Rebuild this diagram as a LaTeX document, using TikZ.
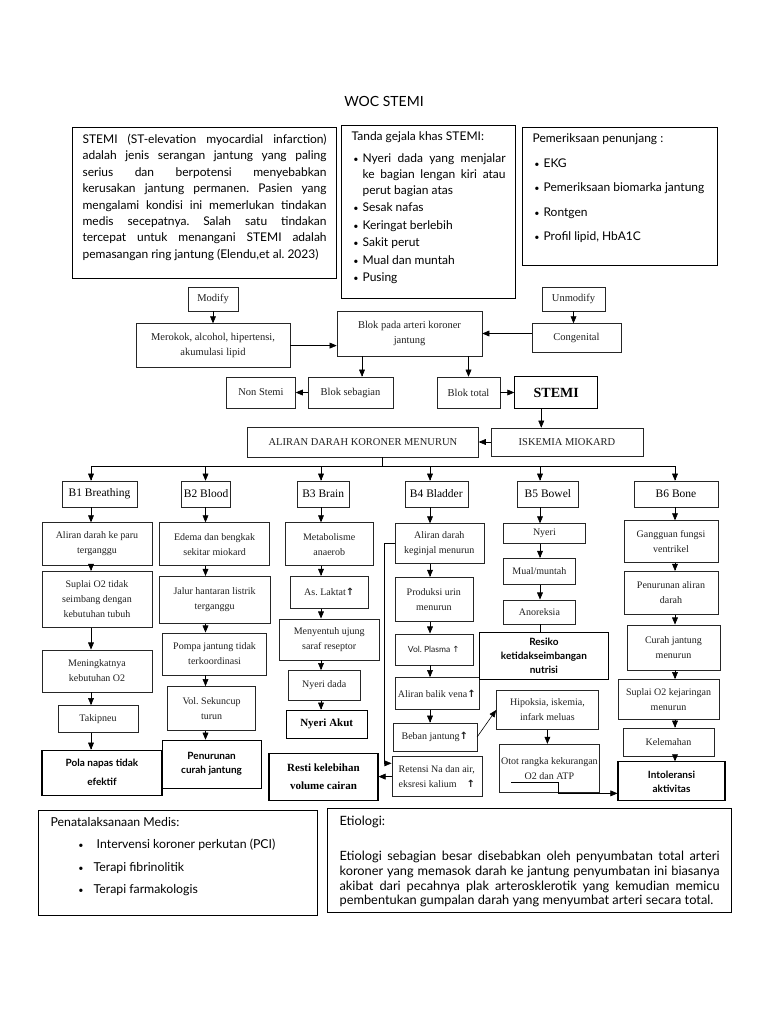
\documentclass[tikz,border=0pt]{standalone}
\usepackage{fontspec}
\setmainfont{Liberation Serif}
\setsansfont{Lato}
\newfontfamily\symfont{DejaVu Sans}
\usepackage{enumitem}
\usepackage{tikz}
\usetikzlibrary{arrows,positioning,calc}
\setlist[itemize]{label={\small\textbullet},parsep=0pt,partopsep=0pt}
\frenchspacing

\begin{document}
\begin{tikzpicture}[x=1pt,y=1pt,->,>=triangle 45,line width=.6pt,
	box size/.style 2 args={minimum width=#1,minimum height=#2},
	info box/.style={draw,line width=1.2pt,anchor=north west,inner xsep=10pt,inner ysep=6.5pt,
		font=\sffamily\fontsize{12}{16}\selectfont},
	flow box/.style={draw=black!85,line width=.6pt,align=center,inner sep=1pt,text=black!88,
		font=\rmfamily\fontsize{10}{15}\selectfont},
	top box/.style={flow box,font=\rmfamily\fontsize{10.5}{15}\selectfont},
	head box/.style={flow box,text=black,font=\rmfamily\fontsize{11.5}{14}\selectfont},
	result box/.style={draw,line width=1.1pt,align=center,inner sep=1pt,
		font=\sffamily\bfseries\fontsize{10}{14}\selectfont},
	result serif/.style={result box,font=\rmfamily\bfseries\fontsize{11}{18}\selectfont}]

    \useasboundingbox (0,0) rectangle (768,-1024);

    % judul
    \node[font=\sffamily\fontsize{14}{16}\selectfont] (judul) at (384,-101) {WOC STEMI};

    % kotak keterangan atas
    \node[info box,font=\sffamily\fontsize{12}{16.4}\selectfont] (definisi) at (72,-127) {\parbox[t][138pt][t]{244pt}{STEMI (ST-elevation myocardial infarction)\linebreak
    adalah jenis serangan jantung yang paling\linebreak
    serius dan berpotensi menyebabkan\linebreak
    kerusakan jantung permanen. Pasien yang\linebreak
    mengalami kondisi ini memerlukan tindakan\linebreak
    medis secepatnya. Salah satu tindakan\linebreak
    tercepat untuk menangani STEMI adalah\linebreak
    pemasangan ring jantung (Elendu,et al. 2023)}};
    \node[info box,inner ysep=6pt] (gejala) at (341,-125) {\parbox[t][161pt][t]{154pt}{Tanda gejala khas STEMI:
    \begin{itemize}[leftmargin=11pt,labelsep=4pt,topsep=6pt,itemsep=1.5pt]
    \item Nyeri dada yang menjalar\linebreak ke bagian lengan kiri atau\linebreak perut bagian atas
    \item Sesak nafas
    \item Keringat berlebih
    \item Sakit perut
    \item Mual dan muntah
    \item Pusing
    \end{itemize}}};
    \node[info box,inner ysep=6pt] (penunjang) at (522,-127) {\parbox[t][126pt][t]{175pt}{Pemeriksaan penunjang :
    \begin{itemize}[leftmargin=11pt,labelsep=4pt,topsep=9pt,itemsep=8.5pt]
    \item EKG
    \item Pemeriksaan biomarka jantung
    \item Rontgen
    \item Profil lipid, HbA1C
    \end{itemize}}};

    % faktor risiko dan blok
    \node[top box,box size={50pt}{24pt}] (modify) at (213,-299) {Modify};
    \node[top box,box size={154pt}{44pt},below=12pt of modify] (faktor) {Merokok, alcohol, hipertensi,\\ akumulasi lipid};
    \node[top box,box size={145pt}{45pt}] (blok) at (409.5,-333.5) {Blok pada arteri koroner\\ jantung};
    \node[top box,box size={63pt}{24pt}] (unmodify) at (573.5,-299) {Unmodify};
    \node[top box,box size={89pt}{29pt},below=12pt of unmodify,xshift=3pt] (congenital) {Congenital};
    \node[top box,box size={85pt}{31pt}] (sebagian) at (350.5,-392.5) {Blok sebagian};
    \node[top box,box size={69pt}{31pt},left=12pt of sebagian] (nonstemi) {Non Stemi};
    \node[top box,box size={63pt}{31pt}] (total) at (468.5,-392.5) {Blok total};
    \node[result serif,line width=.9pt,box size={83pt}{32pt},right=14pt of total,font=\rmfamily\bfseries\fontsize{14}{16}\selectfont] (stemi) {STEMI};
    \node[top box,box size={152pt}{28pt}] (iskemia) at (567,-442) {ISKEMIA MIOKARD};
    \node[top box,box size={231pt}{30pt},left=12pt of iskemia] (aliran) {ALIRAN DARAH KORONER MENURUN};

    % B1 - B6
    \node[head box,box size={75pt}{26pt}] (b1) at (99.5,-494) {B1 Breathing};
    \node[head box,box size={49pt}{26pt},right=44pt of b1] (b2) {B2 Blood};
    \node[head box,box size={52pt}{26pt},right=66pt of b2] (b3) {B3 Brain};
    \node[head box,box size={63pt}{26pt},right=55pt of b3] (b4) {B4 Bladder};
    \node[head box,box size={61pt}{26pt},right=49pt of b4] (b5) {B5 Bowel};
    \node[head box,box size={84pt}{26pt},right=55pt of b5] (b6) {B6 Bone};

    % B1 Breathing
    \node[flow box,box size={110pt}{43pt},below=15pt of b1,xshift=-2.5pt] (paru) {Aliran darah ke paru\\ terganggu};
    \node[flow box,box size={110pt}{56pt},below=5pt of paru] (suplai) {Suplai O2 tidak\\ seimbang dengan\\ kebutuhan tubuh};
    \node[flow box,box size={110pt}{42pt},below=22pt of suplai] (butuh) {Meningkatnya\\ kebutuhan O2};
    \node[flow box,box size={80pt}{27pt},below=13pt of butuh,xshift=1pt] (takipneu) {Takipneu};
    \node[result box,box size={120pt}{45pt},below=17pt of takipneu,xshift=4pt] (pola) {Pola napas tidak\\[5pt] efektif};

    % B2 Blood
    \node[flow box,box size={110pt}{43pt},below=15pt of b2,xshift=8.5pt] (edema) {Edema dan bengkak\\ sekitar miokard};
    \node[flow box,box size={111pt}{47pt},below=10pt of edema] (jalur) {Jalur hantaran listrik\\ terganggu};
    \node[flow box,box size={104pt}{42pt},below=9pt of jalur] (pompa) {Pompa jantung tidak\\ terkoordinasi};
    \node[flow box,box size={88pt}{44pt},below=11pt of pompa,xshift=-3pt] (sekuncup) {Vol. Sekuncup\\ turun};
    \node[result box,box size={99pt}{48pt},below=9pt of sekuncup] (curah) {Penurunan\\ curah jantung};

    % B3 Brain
    \node[flow box,box size={88pt}{43pt},below=15pt of b3,xshift=6pt] (metab) {Metabolisme\\ anaerob};
    \node[flow box,box size={78pt}{32pt},below=10pt of metab] (laktat) {As. Laktat{\symfont\bfseries ↑}};
    \node[flow box,box size={100pt}{41pt},below=10pt of laktat] (saraf) {Menyentuh ujung\\ saraf reseptor};
    \node[flow box,box size={72pt}{30pt},below=10pt of saraf,xshift=-5pt] (dada) {Nyeri dada};
    \node[result serif,box size={81pt}{28pt},below=9pt of dada,xshift=2.5pt] (akut) {Nyeri Akut};

    % B4 Bladder
    \node[flow box,box size={89pt}{40pt},below=16pt of b4,xshift=3pt] (ginjal) {Aliran darah\\ keginjal menurun};
    \node[flow box,box size={78pt}{44pt},below=13pt of ginjal,xshift=-5.5pt] (urin) {Produksi urin\\ menurun};
    \node[flow box,box size={78pt}{31pt},below=12pt of urin,font=\sffamily\fontsize{8.5}{10}\selectfont] (plasma) {Vol. Plasma {\symfont ↑}};
    \node[flow box,box size={84pt}{32pt},below=12pt of plasma,xshift=3pt] (vena) {Aliran balik vena{\symfont\bfseries ↑}};
    \node[flow box,box size={84pt}{28pt},below=13pt of vena,xshift=-2pt] (beban) {Beban jantung{\symfont\bfseries ↑}};
    \node[flow box,box size={90pt}{40pt},below=5pt of beban,xshift=2pt] (retensi) {Retensi Na dan air,\\ eksresi kalium\quad{\symfont\bfseries ↑}};
    \node[result serif,box size={109pt}{47pt},left=13pt of retensi] (resti) {Resti kelebihan\\ volume cairan};

    % B5 Bowel
    \node[flow box,box size={82pt}{20pt},below=16pt of b5,xshift=-3.5pt] (nyeri) {Nyeri};
    \node[flow box,box size={72pt}{26pt},below=14pt of nyeri,xshift=-5pt] (mual) {Mual/muntah};
    \node[flow box,box size={72pt}{24pt},below=15pt of mual] (anoreksia) {Anoreksia};
    \node[result box,box size={129pt}{47pt},below=8pt of anoreksia,xshift=4.5pt] (resiko) {Resiko\\ ketidakseimbangan\\ nutrisi};
    \node[flow box,box size={102pt}{39pt},below=10pt of resiko,xshift=3.5pt] (hipoksia) {Hipoksia, iskemia,\\ infark meluas};
    \node[flow box,box size={100pt}{48pt},below=14pt of hipoksia,xshift=2pt] (otot) {Otot rangka kekurangan\\ O2 dan ATP};

    % B6 Bone
    \node[flow box,box size={94pt}{42pt},below=13pt of b6,xshift=-5pt] (fungsi) {Gangguan fungsi\\ ventrikel};
    \node[flow box,box size={94pt}{43pt},below=8pt of fungsi] (turun) {Penurunan aliran\\ darah};
    \node[flow box,box size={93pt}{45pt},below=10pt of turun,xshift=2.5pt] (curahj) {Curah jantung\\ menurun};
    \node[flow box,box size={101pt}{40pt},below=9pt of curahj,xshift=-5pt] (jaringan) {Suplai O2 kejaringan\\ menurun};
    \node[flow box,box size={91pt}{28pt},below=8pt of jaringan] (lemah) {Kelemahan};
    \node[result box,box size={107pt}{39pt},below=5pt of lemah,xshift=3pt] (intol) {Intoleransi\\ aktivitas};

    % kotak keterangan bawah
    \node[info box,inner xsep=12pt,inner ysep=7pt,font=\sffamily\fontsize{12.3}{15}\selectfont] (medis) at (38,-810) {\parbox[t][91pt][t]{255pt}{Penatalaksanaan Medis:
    \begin{itemize}[leftmargin=43pt,labelsep=10pt,topsep=7pt,itemsep=7.5pt]
    \item \ Intervensi koroner perkutan (PCI)
    \item Terapi fibrinolitik
    \item Terapi farmakologis
    \end{itemize}}};
    \node[info box,inner xsep=12pt,inner ysep=7pt,font=\sffamily\fontsize{12.8}{14.7}\selectfont] (etiologi) at (327,-808) {\parbox[t][90pt][t]{380pt}{Etiologi:\par\vspace{21pt}
    Etiologi sebagian besar disebabkan oleh penyumbatan total arteri\linebreak
    koroner yang memasok darah ke jantung penyumbatan ini biasanya\linebreak
    akibat dari pecahnya plak arterosklerotik yang kemudian memicu\linebreak
    pembentukan gumpalan darah yang menyumbat arteri secara total.}};

    % panah bagian atas
    \coordinate (s1) at ($(sebagian.north)+(11.5,0)$);
    \coordinate (s2) at ($(stemi.south)+(-15,0)$);
    \path[->]
	(modify.south) edge (modify.south |- faktor.north)
	(unmodify.south) edge (unmodify.south |- congenital.north)
	(faktor.east) edge (faktor.east -| blok.west)
	(congenital.west |- blok.east) edge (blok.east)
	(s1 |- blok.south) edge (s1)
	(total.north |- blok.south) edge (total.north)
	(sebagian.west) edge (nonstemi.east)
	(total.east) edge (stemi.west)
	(s2) edge (s2 |- iskemia.north)
	(iskemia.west) edge (aliran.east)
	;

    % cabang B1 - B6
    \coordinate (bus) at (382,-466);
    \foreach \n/\x in {1/91,2/205.5,3/321,4/430,5/540,6/675}
	\coordinate (c\n) at (\x,-466);
    \draw[-] (bus |- aliran.south) -- (bus);
    \draw[-] (c1) -- (c6);
    \foreach \n in {1,...,6}
	\draw[->] (c\n) -- (c\n |- b\n.north);

    % panah tiap kolom
    \foreach \cx/\src/\dst in {c1/b1/paru,c1/paru/suplai,c1/suplai/butuh,c1/butuh/takipneu,c1/takipneu/pola,
	c2/b2/edema,c2/edema/jalur,c2/jalur/pompa,c2/pompa/sekuncup,c2/sekuncup/curah,
	c3/b3/metab,c3/metab/laktat,c3/laktat/saraf,c3/saraf/dada,c3/dada/akut,
	c4/b4/ginjal,c4/ginjal/urin,c4/urin/plasma,c4/plasma/vena,c4/vena/beban,
	c5/b5/nyeri,c5/nyeri/mual,c5/mual/anoreksia,
	c6/b6/fungsi,c6/fungsi/turun,c6/turun/curahj,c6/curahj/jaringan,c6/jaringan/lemah,c6/lemah/intol}
	\draw[->] (\src.south -| \cx) -- (\dst.north -| \cx);

    % panah lain
    \coordinate (rin) at ($(retensi.north west)+(0,-7)$);
    \coordinate (ototout) at ($(otot.south west)+(12,10)$);
    \draw[-] (anoreksia.south -| c5) -- (resiko.north -| c5);
    \draw[->] (hipoksia.south) -- (hipoksia.south |- otot.north);
    \draw[->] (beban.east) -- (hipoksia.west);
    \draw[->] (ginjal.west) -- ++(-10,0) |- (rin);
    \draw[->] (retensi.west) -- (resti.east);
    \draw[->] (ototout) -- ++(47,0) |- ($(intol.west)+(0,-12)$);

\end{tikzpicture}
\end{document}
